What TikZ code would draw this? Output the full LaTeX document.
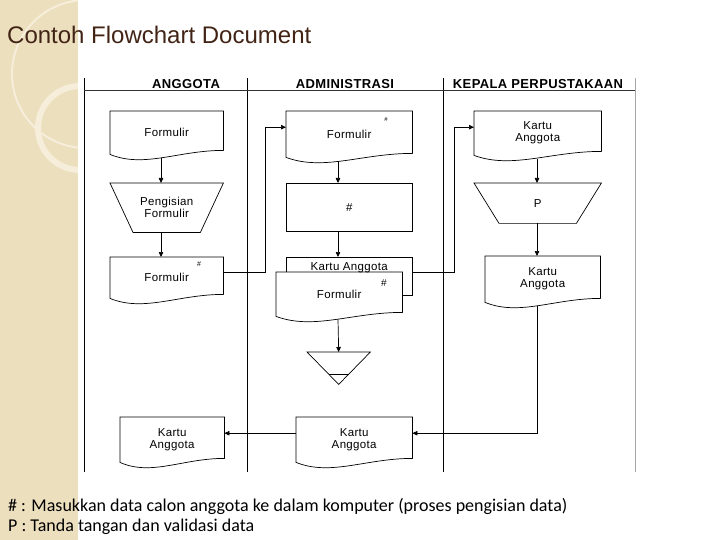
\documentclass[tikz,border=0pt]{standalone}
\usepackage{fontspec}
\setmainfont{Liberation Sans}
\newfontfamily\boxfont[LetterSpace=3]{Liberation Sans}
\newfontfamily\headfont[LetterSpace=3]{Liberation Sans}
\newfontfamily\notefont{Carlito}
\usetikzlibrary{arrows.meta,calc,backgrounds}

\definecolor{titlebrown}{RGB}{66,36,22}
\definecolor{stripbeige}{RGB}{236,223,190}
\definecolor{ringbeige}{RGB}{246,238,218}

\tikzset{
  lane/.style={line width=0.8pt},
  flow/.style={line width=0.7pt, -{Triangle[length=5pt,width=4.5pt]}},
  link/.style={line width=0.7pt},
  docline/.style={line width=0.7pt, fill=white},
  boxtext/.style={anchor=north west, inner sep=0pt, align=center,
    font=\boxfont\fontsize{11.5}{12}\selectfont},
  headtext/.style={inner sep=0pt, font=\headfont\bfseries\fontsize{13}{14}\selectfont},
  mark/.style={inner sep=0pt, font=\boxfont\fontsize{#1}{#1}\selectfont}
}

\begin{document}
\begin{tikzpicture}[x=1pt,y=-1pt]
  \useasboundingbox (0,0) rectangle (720,540);

  % side strip
  \fill[stripbeige] (0,0) rectangle (78,540);
  \begin{scope}
    \clip (0,0) rectangle (78,540);
    \draw[ringbeige, line width=2pt] (86,74) circle [radius=74pt];
    \draw[ringbeige, line width=6pt] (80,128) circle [radius=42pt];
  \end{scope}

  \node[anchor=base west, inner sep=0pt, text=titlebrown,
    font=\fontsize{24}{28}\selectfont] (title) at (7,44) {Contoh Flowchart Document};

  % swimlanes
  \draw[lane] (84,78) -- (84,472);
  \draw[lane] (247,78) -- (247,472);
  \draw[lane] (443,78) -- (443,472);
  \draw[lane, black!35] (635,78) -- (635,472);
  \draw[lane, black!80] (84,90) -- (635,90);
  \node[headtext] (hA) at (186,84) {ANGGOTA};
  \node[headtext] (hB) at (345,84) {ADMINISTRASI};
  \node[headtext] (hC) at (538,84) {KEPALA PERPUSTAKAAN};

  \coordinate (colA) at (161,0);
  \coordinate (colB) at (338,0);
  \coordinate (colC) at (537,0);

  % anggota
  \node[boxtext, minimum width=113pt, minimum height=43pt] (f1) at (110,111) {Formulir};
  \node[boxtext, minimum width=113pt, minimum height=49pt] (pf) at (110,183) {Pengisian\\Formulir};
  \node[boxtext, minimum width=113pt, minimum height=41pt] (f2) at (110,257) {Formulir};
  \node[mark=7] (m2) at (199,264) {\#};
  \node[boxtext, minimum width=104pt, minimum height=45pt] (lk) at (120,417) {Kartu\\Anggota};

  % administrasi
  \node[boxtext, minimum width=126pt, minimum height=46pt] (af) at (286,111) {Formulir};
  \node[mark=6] (m1) at (386,119) {\#};
  \node[boxtext, draw, line width=0.7pt, minimum width=126pt, minimum height=48pt] (hb) at (286,183) {\#};
  \node[boxtext, minimum width=126pt, text height=13pt, text depth=25pt] (card) at (286,257) {Kartu Anggota};
  \node[boxtext, minimum width=126pt, minimum height=44pt] (fd) at (276,272) {Formulir};
  \node[mark=10] (m3) at (384,283) {\#};
  \node[boxtext, minimum width=63pt, minimum height=32pt] (store) at (307,352) {};
  \node[boxtext, minimum width=116pt, minimum height=45pt] (ak) at (296,417) {Kartu\\Anggota};

  % kepala perpustakaan
  \node[boxtext, minimum width=127pt, minimum height=44pt] (kk1) at (474,111) {Kartu\\Anggota};
  \node[boxtext, minimum width=127pt, minimum height=40pt] (pp) at (474,183) {P};
  \node[boxtext, minimum width=115pt, minimum height=46pt] (kk2) at (485,256) {Kartu\\Anggota};

  \begin{scope}[on background layer]
    \draw[docline] (card.north west) rectangle (card.south east);
    \foreach \n in {f1,f2,lk,af,fd,ak,kk1,kk2}
      \draw[docline] (\n.north west) -- (\n.north east) -- ($(\n.south east)+(0,-4)$)
        .. controls ($(\n.south west)!0.6!(\n.south east)+(0,-4)$)
        and ($(\n.south west)!0.3!(\n.south east)+(0,14)$) .. (\n.south west) -- cycle;
    \foreach \n/\d in {pf/23,pp/25}
      \draw[docline] (\n.north west) -- (\n.north east) -- ($(\n.south east)+(-\d,0)$)
        -- ($(\n.south west)+(\d,0)$) -- cycle;
    \draw[docline] (store.north west) -- (store.north east) -- (store.south) -- cycle;
    \draw[link] ($(store.south)+(-10,-10)$) -- ($(store.south)+(10,-10)$);
  \end{scope}

  % connectors
  \draw[flow] ($(f1.south -| colA)+(0,4)$) -- (pf.north -| colA);
  \draw[flow] (pf.south -| colA) -- (f2.north -| colA);
  \draw[flow] ($(f2.east)+(0,-5)$) -- ++(42,0) |- ($(af.west)+(0,-7)$);
  \draw[flow] ($(af.south -| colB)+(0,4)$) -- (hb.north -| colB);
  \draw[flow] (hb.south -| colB) -- (card.north -| colB);
  \draw[flow] (card.east |- fd.north) -- ++(42,0) |- ($(kk1.west)+(0,-6)$);
  \draw[flow] ($(fd.south -| colB)+(0,3)$) -- (store.north);
  \draw[flow] ($(kk1.south -| colC)+(0,4)$) -- (pp.north -| colC);
  \draw[flow] (pp.south -| colC) -- (kk2.north -| colC);
  \draw[flow] ($(kk2.south -| colC)+(0,4)$) |- ($(ak.east)+(0,-6.5)$);
  \draw[flow] ($(ak.west)+(0,-6.5)$) -- ($(lk.east)+(0,-6.5)$);

  % notes
  \node[anchor=base west, inner sep=0pt, font=\notefont\fontsize{18}{20}\selectfont]
    (note1) at (8,511) {\# : Masukkan data calon anggota ke dalam komputer (proses pengisian data)};
  \node[anchor=base west, inner sep=0pt, font=\notefont\fontsize{18}{20}\selectfont]
    (note2) at (8,531) {P : Tanda tangan dan validasi data};
\end{tikzpicture}
\end{document}
